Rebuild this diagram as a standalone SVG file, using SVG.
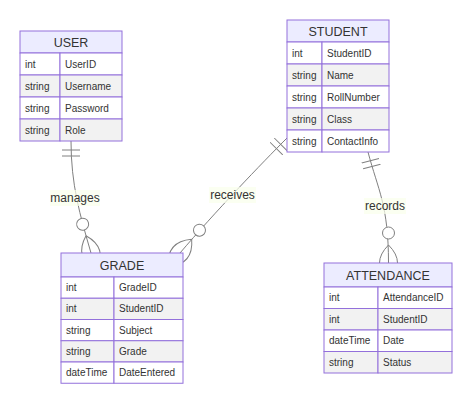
<svg xmlns="http://www.w3.org/2000/svg" width="474" height="406" viewBox="0 0 474 406">
<style>
.hdr{fill:#ECECFF;stroke:#9370DB;stroke-width:1}
.odd{fill:#ffffff;stroke:#9370DB;stroke-width:1}
.even{fill:#f2f2f2;stroke:#9370DB;stroke-width:1}
.ht{font-family:"Liberation Sans",Arial,sans-serif;font-size:12.5px;fill:#333;text-anchor:middle}
.at{font-family:"Liberation Sans",Arial,sans-serif;font-size:10px;fill:#333}
.rel{fill:none;stroke:gray;stroke-width:1}
.lb{fill:#f9ffeb;opacity:0.7}
.lt{font-family:"Liberation Sans",Arial,sans-serif;font-size:12px;fill:#333;text-anchor:middle}
</style>
<defs>
<marker id="oneStart" refX="0" refY="9" markerWidth="18" markerHeight="18" orient="auto" markerUnits="userSpaceOnUse">
<path d="M9,0 L9,18 M15,0 L15,18" stroke="gray" fill="none"/>
</marker>
<marker id="zeroManyEnd" refX="39" refY="18" markerWidth="57" markerHeight="36" orient="auto" markerUnits="userSpaceOnUse">
<circle cx="9" cy="18" r="6" stroke="gray" fill="white"/>
<path d="M21,18 Q39,0 57,18 Q39,36 21,18" stroke="gray" fill="none"/>
</marker>
</defs>
<rect width="474" height="406" fill="#ffffff"/>
<g id="connectors">
<path class="rel" d="M71,141 C71,185 80,215 91,253" marker-start="url(#oneStart)" marker-end="url(#zeroManyEnd)"/>
<path class="rel" d="M287,138 C262,163 215,212 180,253" marker-start="url(#oneStart)" marker-end="url(#zeroManyEnd)"/>
<path class="rel" d="M368,152 C378,190 388.5,205 388.5,263" marker-start="url(#oneStart)" marker-end="url(#zeroManyEnd)"/>
<rect class="lb" x="50" y="190" width="50" height="16"/>
<text class="lt" x="75" y="202">manages</text>
<rect class="lb" x="209" y="187" width="47" height="16"/>
<text class="lt" x="232.5" y="199">receives</text>
<rect class="lb" x="364" y="198" width="42" height="16"/>
<text class="lt" x="385" y="210">records</text>
</g>
<g id="USER">
<rect class="hdr" x="20" y="31" width="102" height="22"/>
<text class="ht" x="71" y="46.5">USER</text>
<rect class="odd" x="20" y="53" width="40" height="22"/><rect class="odd" x="60" y="53" width="62" height="22"/>
<rect class="even" x="20" y="75" width="40" height="22"/><rect class="even" x="60" y="75" width="62" height="22"/>
<rect class="odd" x="20" y="97" width="40" height="22"/><rect class="odd" x="60" y="97" width="62" height="22"/>
<rect class="even" x="20" y="119" width="40" height="22"/><rect class="even" x="60" y="119" width="62" height="22"/>
<text class="at" x="25" y="67.5">int</text><text class="at" x="65" y="67.5">UserID</text>
<text class="at" x="25" y="89.5">string</text><text class="at" x="65" y="89.5">Username</text>
<text class="at" x="25" y="111.5">string</text><text class="at" x="65" y="111.5">Password</text>
<text class="at" x="25" y="133.5">string</text><text class="at" x="65" y="133.5">Role</text>
</g>
<g id="STUDENT">
<rect class="hdr" x="287" y="20" width="102" height="22"/>
<text class="ht" x="338" y="35.5">STUDENT</text>
<rect class="odd" x="287" y="42" width="35" height="22"/><rect class="odd" x="322" y="42" width="67" height="22"/>
<rect class="even" x="287" y="64" width="35" height="22"/><rect class="even" x="322" y="64" width="67" height="22"/>
<rect class="odd" x="287" y="86" width="35" height="22"/><rect class="odd" x="322" y="86" width="67" height="22"/>
<rect class="even" x="287" y="108" width="35" height="22"/><rect class="even" x="322" y="108" width="67" height="22"/>
<rect class="odd" x="287" y="130" width="35" height="22"/><rect class="odd" x="322" y="130" width="67" height="22"/>
<text class="at" x="292" y="56.5">int</text><text class="at" x="327" y="56.5">StudentID</text>
<text class="at" x="292" y="78.5">string</text><text class="at" x="327" y="78.5">Name</text>
<text class="at" x="292" y="100.5">string</text><text class="at" x="327" y="100.5">RollNumber</text>
<text class="at" x="292" y="122.5">string</text><text class="at" x="327" y="122.5">Class</text>
<text class="at" x="292" y="144.5">string</text><text class="at" x="327" y="144.5">ContactInfo</text>
</g>
<g id="GRADE">
<rect class="hdr" x="61" y="253" width="122" height="24"/>
<text class="ht" x="122" y="269.5">GRADE</text>
<rect class="odd" x="61" y="277" width="53" height="21.25"/><rect class="odd" x="114" y="277" width="69" height="21.25"/>
<rect class="even" x="61" y="298.25" width="53" height="21.25"/><rect class="even" x="114" y="298.25" width="69" height="21.25"/>
<rect class="odd" x="61" y="319.5" width="53" height="21.25"/><rect class="odd" x="114" y="319.5" width="69" height="21.25"/>
<rect class="even" x="61" y="340.75" width="53" height="21.25"/><rect class="even" x="114" y="340.75" width="69" height="21.25"/>
<rect class="odd" x="61" y="362" width="53" height="21.25"/><rect class="odd" x="114" y="362" width="69" height="21.25"/>
<text class="at" x="66" y="291.1">int</text><text class="at" x="119" y="291.1">GradeID</text>
<text class="at" x="66" y="312.4">int</text><text class="at" x="119" y="312.4">StudentID</text>
<text class="at" x="66" y="333.6">string</text><text class="at" x="119" y="333.6">Subject</text>
<text class="at" x="66" y="354.9">string</text><text class="at" x="119" y="354.9">Grade</text>
<text class="at" x="66" y="376.1">dateTime</text><text class="at" x="119" y="376.1">DateEntered</text>
</g>
<g id="ATTENDANCE">
<rect class="hdr" x="324" y="263" width="128" height="24"/>
<text class="ht" x="388" y="279.5">ATTENDANCE</text>
<rect class="odd" x="324" y="287" width="54" height="21.5"/><rect class="odd" x="378" y="287" width="74" height="21.5"/>
<rect class="even" x="324" y="308.5" width="54" height="21.5"/><rect class="even" x="378" y="308.5" width="74" height="21.5"/>
<rect class="odd" x="324" y="330" width="54" height="21.5"/><rect class="odd" x="378" y="330" width="74" height="21.5"/>
<rect class="even" x="324" y="351.5" width="54" height="21.5"/><rect class="even" x="378" y="351.5" width="74" height="21.5"/>
<text class="at" x="329" y="301.3">int</text><text class="at" x="383" y="301.3">AttendanceID</text>
<text class="at" x="329" y="322.8">int</text><text class="at" x="383" y="322.8">StudentID</text>
<text class="at" x="329" y="344.3">dateTime</text><text class="at" x="383" y="344.3">Date</text>
<text class="at" x="329" y="365.8">string</text><text class="at" x="383" y="365.8">Status</text>
</g>
</svg>
